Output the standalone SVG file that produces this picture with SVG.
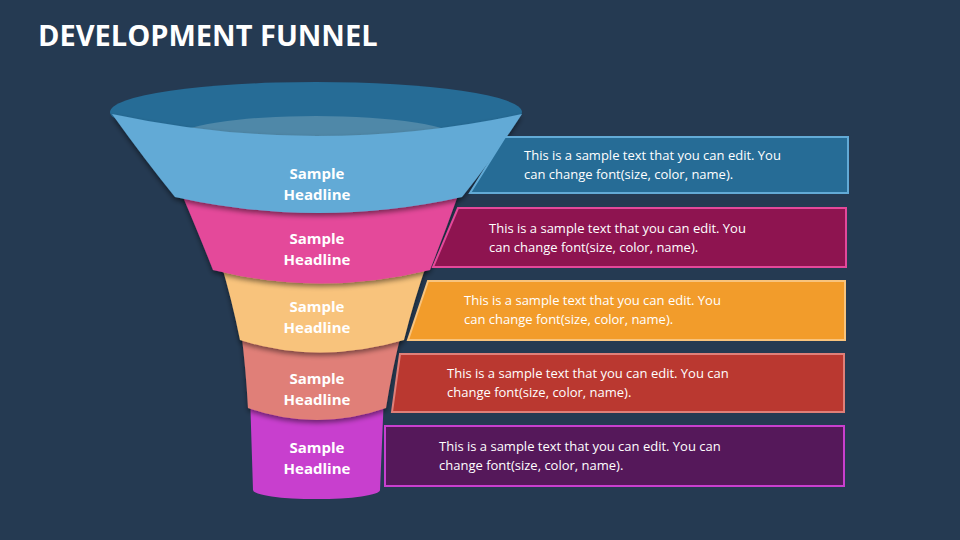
<svg xmlns="http://www.w3.org/2000/svg" width="960" height="540" viewBox="0 0 960 540">
<defs>
<filter id="sh" x="-10%" y="-10%" width="120%" height="140%"><feDropShadow dx="0" dy="3" stdDeviation="2.5" flood-color="#000" flood-opacity="0.45"/></filter>
</defs>
<style>
.h{font-family:"Open Sans","Liberation Sans",sans-serif;font-weight:bold;font-size:15px;fill:#fff;text-anchor:middle}
.t{font-family:"Open Sans","Liberation Sans",sans-serif;font-size:13px;fill:#fff}
.b{stroke-width:2}
</style>
<rect width="960" height="540" fill="#253A52"/>
<text x="38" y="46" font-family="'Open Sans','Liberation Sans',sans-serif" font-weight="bold" font-size="29" fill="#fff">DEVELOPMENT FUNNEL</text>
<g id="connectors"/>
<g id="band5">
<path d="M250,395 L253,490 A63,9 0 0 0 380,490 L384,395 Z" fill="#C83FCE"/>
<text class="h" x="317" y="453">Sample</text><text class="h" x="317" y="474">Headline</text>
</g>
<g id="band4" filter="url(#sh)">
<path d="M241,330 Q246,370 248,408 Q317,432 386,408 Q392,370 402,330 Z" fill="#E07F78"/>
</g>
<text class="h" x="317" y="384">Sample</text><text class="h" x="317" y="405">Headline</text>
<g id="band3" filter="url(#sh)">
<path d="M220,260 Q232,300 240,340 Q318,365 404,340 Q414,300 428,260 Z" fill="#F8C37C"/>
</g>
<text class="h" x="317" y="312">Sample</text><text class="h" x="317" y="333">Headline</text>
<g id="band2" filter="url(#sh)">
<path d="M180,190 Q198,232 213,270 Q320,297 430,270 Q445,232 460,190 Z" fill="#E4489A"/>
</g>
<text class="h" x="317" y="244">Sample</text><text class="h" x="317" y="265">Headline</text>
<g id="band1">
<ellipse cx="316" cy="112" rx="206" ry="30" fill="#266C96"/>
<ellipse cx="316" cy="138" rx="140" ry="22" fill="#4F88A8"/>
<path d="M112,114 Q145,160 175,197 Q318,229 462,197 Q492,160 522,114 Q316,158 112,114 Z" fill="#62AAD6" filter="url(#sh)"/>
<text class="h" x="317" y="179">Sample</text><text class="h" x="317" y="200">Headline</text>
</g>
<g id="box1"><path class="b" d="M505,137 H848 V193 H470 Z" fill="#266C96" stroke="#62AAD6"/>
<text class="t" x="524" y="160">This is a sample text that you can edit. You</text><text class="t" x="524" y="179">can change font(size, color, name).</text></g>
<g id="box2"><path class="b" d="M458,208 H846 V267 H433 Z" fill="#8E1450" stroke="#E4489A"/>
<text class="t" x="489" y="233">This is a sample text that you can edit. You</text><text class="t" x="489" y="252">can change font(size, color, name).</text></g>
<g id="box3"><path class="b" d="M428,281 H845 V340 H408 Z" fill="#F29C2B" stroke="#F8C37C"/>
<text class="t" x="464" y="305">This is a sample text that you can edit. You</text><text class="t" x="464" y="324">can change font(size, color, name).</text></g>
<g id="box4"><path class="b" d="M400,354 H844 V412 H392 Z" fill="#BA3830" stroke="#E07F78"/>
<text class="t" x="447" y="378">This is a sample text that you can edit. You can</text><text class="t" x="447" y="397">change font(size, color, name).</text></g>
<g id="box5"><path class="b" d="M385,426 H844 V486 H385 Z" fill="#55185A" stroke="#C83FCE"/>
<text class="t" x="439" y="451">This is a sample text that you can edit. You can</text><text class="t" x="439" y="470">change font(size, color, name).</text></g>
</svg>
